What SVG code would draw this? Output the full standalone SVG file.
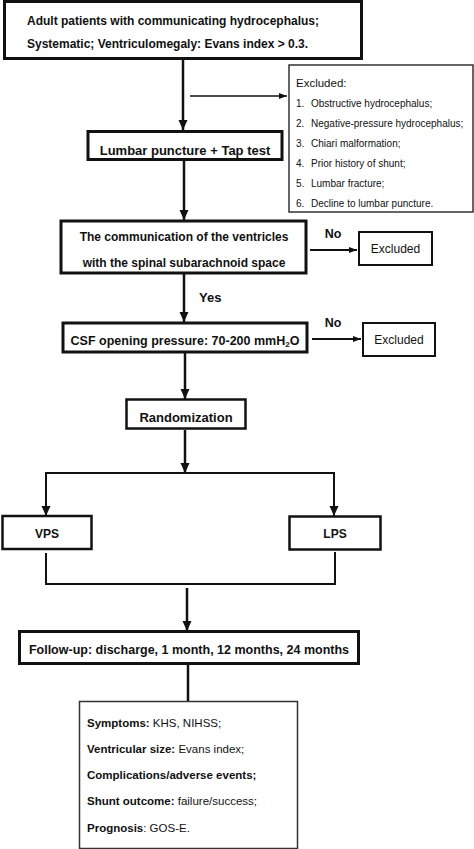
<svg xmlns="http://www.w3.org/2000/svg" width="474" height="849" viewBox="0 0 474 849">
<style>
  .box { fill: #fff; stroke: #111; }
  .b3 { stroke-width: 3; }
  .b25 { stroke-width: 2.5; }
  .b2 { stroke-width: 2; }
  .thin { stroke: #333; stroke-width: 1.5; }
  text { font-family: "Liberation Sans", Arial, sans-serif; fill: #111; }
  .bold { font-weight: bold; }
  .mid { text-anchor: middle; }
  .conn line, .conn polyline { stroke: #111; fill: none; }
  .main { stroke-width: 2.5; }
  .side { stroke-width: 2; }
  .hair { stroke-width: 1.5; }
</style>
<defs>
  <marker id="ah" markerUnits="userSpaceOnUse" markerWidth="12" markerHeight="12" viewBox="0 0 12 12" refX="11" refY="6" orient="auto">
    <path d="M1,1.5 L11,6 L1,10.5 Z" fill="#111"/>
  </marker>
  <marker id="ahs" markerUnits="userSpaceOnUse" markerWidth="10" markerHeight="10" viewBox="0 0 10 10" refX="9" refY="5" orient="auto">
    <path d="M1,2 L9,5 L1,8 Z" fill="#111"/>
  </marker>
</defs>

<g id="connectors" class="conn">
  <line class="main" x1="183" y1="59" x2="183" y2="130" marker-end="url(#ah)"/>
  <line class="hair" x1="190" y1="96" x2="287" y2="96" marker-end="url(#ahs)"/>
  <line class="main" x1="184" y1="160" x2="184" y2="220" marker-end="url(#ah)"/>
  <line class="side" x1="310" y1="250" x2="357" y2="250" marker-end="url(#ahs)"/>
  <line class="main" x1="184" y1="274" x2="184" y2="322" marker-end="url(#ah)"/>
  <line class="side" x1="312" y1="339" x2="361" y2="339" marker-end="url(#ahs)"/>
  <line class="main" x1="185" y1="353" x2="185" y2="399" marker-end="url(#ah)"/>
  <line class="main" x1="185" y1="430" x2="185" y2="473" marker-end="url(#ah)"/>
  <polyline class="side" points="46,515 46,473 334,473 334,515"/>
  <line class="side" x1="46" y1="473" x2="46" y2="516" marker-end="url(#ah)"/>
  <line class="side" x1="334" y1="473" x2="334" y2="516" marker-end="url(#ah)"/>
  <polyline class="side" points="46,553 46,584 335,584 335,552"/>
  <line class="main" x1="187" y1="588" x2="187" y2="631" marker-end="url(#ah)"/>
  <line class="main" x1="188" y1="665" x2="188" y2="701"/>
</g>

<g id="n-inclusion">
  <rect class="box b3" x="4.5" y="1.5" width="357" height="57"/>
  <text class="bold" x="27" y="24.5" font-size="12">Adult patients with communicating hydrocephalus;</text>
  <text class="bold" x="27" y="47.5" font-size="12">Systematic; Ventriculomegaly: Evans index &gt; 0.3.</text>
</g>

<g id="n-excluded-list">
  <rect class="box thin" x="289" y="65" width="184" height="147"/>
  <text x="296" y="87" font-size="11.5">Excluded:</text>
  <g font-size="10">
    <text x="296" y="106.5">1.</text><text x="311" y="106.5">Obstructive hydrocephalus;</text>
    <text x="296" y="126.5">2.</text><text x="311" y="126.5">Negative-pressure hydrocephalus;</text>
    <text x="296" y="146.5">3.</text><text x="311" y="146.5">Chiari malformation;</text>
    <text x="296" y="166.5">4.</text><text x="311" y="166.5">Prior history of shunt;</text>
    <text x="296" y="186.5">5.</text><text x="311" y="186.5">Lumbar fracture;</text>
    <text x="296" y="206.5">6.</text><text x="311" y="206.5">Decline to lumbar puncture.</text>
  </g>
</g>

<g id="n-lumbar">
  <rect class="box b3" x="88" y="131.5" width="194" height="28"/>
  <text class="bold mid" x="185" y="154.5" font-size="13">Lumbar puncture + Tap test</text>
</g>

<g id="n-communication">
  <rect class="box b3" x="61" y="221" width="245" height="52"/>
  <text class="bold mid" x="184" y="241" font-size="12">The communication of the ventricles</text>
  <text class="bold mid" x="184" y="267" font-size="12">with the spinal subarachnoid space</text>
</g>

<g id="n-excluded-1">
  <rect class="box b2" x="359" y="232" width="73" height="33"/>
  <text class="mid" x="395.5" y="253" font-size="12">Excluded</text>
</g>
<text class="bold mid" x="333" y="237.5" font-size="12.5">No</text>
<text class="bold" x="199" y="301.5" font-size="13">Yes</text>

<g id="n-csf">
  <rect class="box b3" x="63" y="323" width="244" height="29"/>
  <text class="bold mid" x="185" y="344.5" font-size="12.5">CSF opening pressure: 70-200 mmH<tspan font-size="8" dy="2">2</tspan><tspan dy="-2">O</tspan></text>
</g>

<g id="n-excluded-2">
  <rect class="box b2" x="363" y="323" width="72" height="33"/>
  <text class="mid" x="399" y="344" font-size="12">Excluded</text>
</g>
<text class="bold mid" x="333" y="326.5" font-size="12.5">No</text>

<g id="n-randomization">
  <rect class="box b25" x="126.5" y="399.5" width="119" height="29"/>
  <text class="bold mid" x="186" y="421.5" font-size="13">Randomization</text>
</g>

<g id="n-vps">
  <rect class="box b25" x="2.5" y="516" width="89" height="33"/>
  <text class="bold mid" x="47" y="538" font-size="12">VPS</text>
</g>

<g id="n-lps">
  <rect class="box b25" x="289.5" y="516.5" width="91" height="33"/>
  <text class="bold mid" x="335" y="538" font-size="12">LPS</text>
</g>

<g id="n-followup">
  <rect class="box b3" x="19.5" y="631.5" width="339" height="32"/>
  <text class="bold mid" x="189" y="653.5" font-size="12.5">Follow-up: discharge, 1 month, 12 months, 24 months</text>
</g>

<g id="n-outcomes">
  <rect class="box thin" x="79.5" y="701.5" width="218" height="147"/>
  <g font-size="11.5">
    <text x="87" y="727"><tspan class="bold">Symptoms:</tspan> KHS, NIHSS;</text>
    <text x="87" y="753"><tspan class="bold">Ventricular size:</tspan> Evans index;</text>
    <text x="87" y="779" class="bold">Complications/adverse events;</text>
    <text x="87" y="805"><tspan class="bold">Shunt outcome:</tspan> failure/success;</text>
    <text x="87" y="832"><tspan class="bold">Prognosis</tspan>: GOS-E.</text>
  </g>
</g>
</svg>
